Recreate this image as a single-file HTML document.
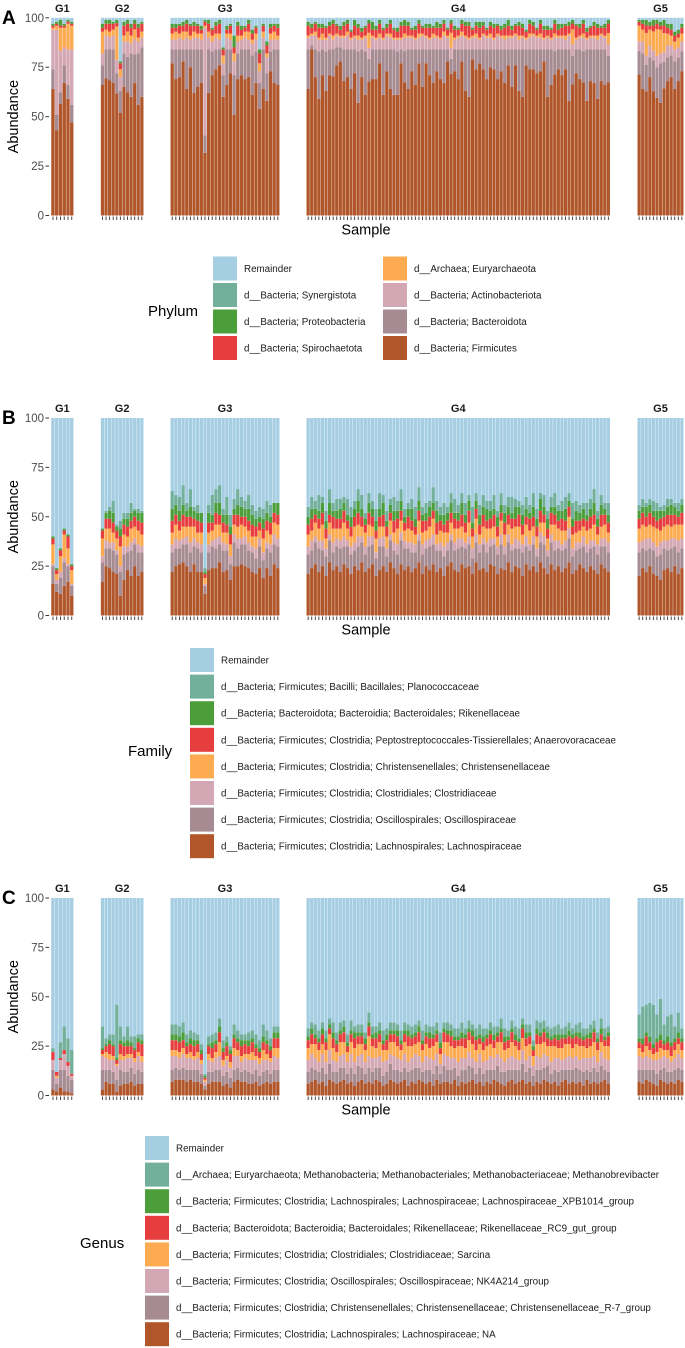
<!DOCTYPE html>
<html><head><meta charset="utf-8"><style>
html,body{margin:0;padding:0;background:#fff;}
svg{display:block;font-family:"Liberation Sans",Arial,sans-serif;}
</style></head><body>
<svg id="chart" width="685" height="1348" viewBox="0 0 685 1348" xmlns="http://www.w3.org/2000/svg"></svg>
<script>
const groups = ["G1","G2","G3","G4","G5"];
const groupSizes = [6,12,30,85,13];
const yTicks = [0,25,50,75,100];

// Panel A (Phylum) — per-sample abundances
const A_firm = [64,43,57,67,59,47, 66,70,69,67,73,52,65,63,60,69,56,60,
77,69,70,78,64,75,62,65,67,32,62,71,74,76,60,66,72,51,69,71,69,70,61,67,54,64,58,73,67,66,
64,84,70,59,71,63,71,71,76,78,68,70,64,72,57,70,61,72,69,69,77,61,73,64,61,61,77,68,64,73,66,77,65,77,71,67,73,69,67,78,76,73,69,78,63,60,79,74,77,74,69,75,74,69,73,67,76,65,76,63,60,76,74,74,72,73,78,60,66,72,74,71,74,58,69,72,69,68,58,68,67,59,68,66,70,
72,64,66,70,64,62,57,67,68,70,64,68,73];
const A_bact = [10,8,6,9,7,9, 10,15,16,17,12,11,17,18,22,15,26,25,
7,15,14,6,20,9,22,19,17,9,22,12,10,8,11,18,12,20,13,13,15,14,20,16,13,20,14,10,17,18,
20,2,14,24,13,20,13,14,9,7,16,14,20,12,26,14,22,12,15,15,7,23,11,20,23,22,7,16,20,11,18,7,19,7,13,17,11,15,17,6,8,11,15,6,21,24,5,10,7,10,15,9,10,15,11,17,8,19,8,21,24,8,10,10,12,11,6,24,18,12,10,13,10,26,15,12,15,16,26,16,17,25,16,18,14,
12,18,14,10,16,16,20,14,12,11,14,12,10];
const A_actino = [20,43,21,9,18,28, 6,7,6,7,8,7,6,8,5,8,6,5,
5,5,6,5,6,5,6,6,5,55,6,5,6,5,6,6,5,7,6,5,6,5,6,6,6,6,8,6,5,5,
6,5,7,6,5,6,7,5,6,5,6,7,5,6,6,5,7,6,6,5,6,5,7,6,5,6,5,7,6,6,5,6,7,6,5,6,6,5,7,6,6,5,6,7,6,5,6,6,5,7,6,6,5,7,6,5,6,6,7,5,6,5,6,7,6,6,5,6,5,7,6,6,5,7,6,5,6,7,5,6,6,5,7,6,6,
5,6,5,6,5,6,5,5,6,5,6,5,5];
const A_eury = [1,2,12,10,13,12, 11,3,3,3,20,4,3,5,4,5,2,3,
3,4,2,4,3,2,3,2,3,1,3,3,2,3,4,2,3,4,3,2,3,4,2,3,4,3,2,3,4,2,
1,1,2,1,3,1,1,2,1,1,1,2,1,1,2,1,1,8,1,1,2,1,1,2,1,1,1,2,1,1,1,2,1,1,1,2,1,1,2,1,8,1,1,2,1,1,1,2,1,1,1,2,1,1,1,2,1,1,1,2,1,1,2,1,1,2,1,1,1,2,1,1,2,1,8,1,1,2,1,1,1,2,1,1,6,
8,6,12,8,10,14,12,10,6,5,4,5,4];
const A_spiro = [1,1,1,1,1,1, 2,3,4,3,2,3,5,4,4,3,5,4,
3,2,4,3,4,5,3,4,2,2,4,3,4,5,3,2,4,3,5,3,2,4,3,3,5,3,4,3,3,4,
5,3,4,5,3,5,4,6,4,3,5,4,3,5,4,3,4,5,3,4,5,4,3,5,4,3,6,4,5,3,4,5,3,4,5,3,4,5,4,3,5,4,3,4,5,6,3,4,5,4,3,4,5,4,3,4,5,3,4,5,4,3,5,4,3,5,4,3,4,5,3,4,5,4,3,6,4,5,3,4,5,4,3,4,5,
2,3,4,2,3,3,2,4,3,3,3,2,3];
const A_proteo = [1,1,3,1,1,1, 2,2,2,1,2,1,2,2,2,2,2,1,
2,2,1,2,2,1,2,1,2,1,2,1,2,2,1,2,1,6,2,2,1,2,2,1,2,1,2,2,1,2,
2,2,1,2,2,1,2,2,1,2,2,2,1,3,2,2,1,2,4,2,2,1,2,2,1,2,2,3,2,1,2,2,1,2,2,1,3,2,2,1,2,2,1,2,2,2,1,2,3,2,1,2,2,1,2,2,3,2,1,2,2,1,2,2,1,2,2,2,1,2,3,2,1,2,2,1,2,2,2,1,2,2,1,2,2,
1,2,3,2,3,2,2,3,2,3,2,2,2];

// Panel B (Family)
const B_lach = [16,12,11,15,17,10, 17,25,24,22,21,10,18,23,20,25,20,22,
22,25,26,27,25,22,26,22,22,11,23,24,24,27,22,23,18,25,25,26,25,24,22,21,24,19,24,20,26,24,
21,24,26,22,25,20,27,23,25,22,26,24,21,25,23,27,22,24,26,20,23,25,22,27,24,21,26,23,25,22,24,27,21,25,23,26,22,24,20,25,27,23,22,26,24,25,21,27,23,24,22,26,25,21,24,23,27,22,25,24,20,26,23,25,22,27,24,21,26,23,25,22,24,27,21,23,26,24,22,25,23,21,26,24,22,
20,24,22,25,21,20,18,23,24,22,25,21,24];
const B_osc = [9,4,8,12,8,5, 10,9,10,11,10,12,13,9,13,11,12,10,
10,9,8,9,11,10,9,12,10,4,9,11,10,9,11,10,8,12,9,10,11,9,10,8,11,9,10,12,10,11,
10,9,11,12,8,10,11,9,10,12,9,11,10,8,12,10,9,11,10,9,12,10,8,11,9,10,12,11,9,10,8,11,10,9,12,10,11,9,10,8,11,10,12,9,10,11,8,10,9,12,10,9,11,10,12,8,10,11,9,10,12,9,10,11,8,10,12,9,11,10,9,11,10,12,9,10,8,11,10,9,12,10,9,11,10,
12,10,11,9,12,10,13,11,9,12,10,11,10];
const B_clos = [1,2,3,2,1,1, 3,4,3,4,2,3,4,3,4,3,4,3,
4,5,4,3,4,5,4,3,4,1,4,3,5,4,4,3,4,4,5,3,4,4,3,5,4,4,3,4,5,4,
4,5,3,4,5,4,3,5,4,4,5,3,4,4,5,3,4,5,4,3,4,5,4,3,4,5,4,4,3,5,4,3,5,4,4,5,3,4,5,4,3,4,5,4,3,4,5,4,4,3,5,4,3,4,5,4,4,3,5,4,4,5,3,4,4,5,4,3,4,5,4,3,4,5,4,4,3,5,4,4,3,5,4,4,5,
5,4,6,5,4,5,6,4,5,5,4,6,5];
const B_chr = [10,3,8,12,8,7, 9,6,7,5,6,10,6,5,7,6,7,6,
6,7,5,6,5,8,6,5,6,3,6,5,7,6,5,6,6,5,6,7,5,6,5,6,4,7,6,5,6,7,
6,5,7,6,8,5,6,7,5,6,7,6,5,8,6,5,7,6,5,7,6,5,6,7,5,8,6,5,7,6,5,7,6,5,6,8,5,6,7,5,6,7,5,6,5,7,6,8,5,6,7,5,6,5,7,6,5,8,6,7,5,6,7,5,6,5,7,6,5,8,6,7,5,6,7,5,6,5,7,6,8,5,6,7,5,
7,8,6,7,8,9,6,7,8,6,7,8,7];
const B_anae = [3,2,3,2,6,2, 4,5,5,5,4,5,5,5,4,5,5,6,
6,5,5,6,5,5,4,6,5,2,5,4,6,5,5,4,5,5,6,4,5,5,6,5,4,5,5,6,5,5,
5,6,4,5,6,5,4,6,5,5,6,4,5,5,6,5,4,6,5,4,5,6,5,4,6,5,5,4,6,5,4,5,6,5,5,4,6,5,4,6,5,5,4,6,5,6,4,5,5,6,4,5,6,5,4,6,5,5,4,6,5,4,6,5,5,6,4,5,6,5,4,6,5,5,4,6,5,4,5,6,5,4,6,5,5,
5,6,5,6,5,4,6,5,5,6,5,4,6];
const B_rik = [1,1,1,1,1,1, 1,3,4,5,2,4,3,4,4,3,4,5,
6,5,5,5,3,5,4,4,5,1,5,4,5,6,4,5,4,3,5,5,4,6,5,4,3,5,4,3,5,6,
4,5,3,4,5,4,6,3,4,5,4,3,5,4,6,4,3,5,4,5,4,6,3,4,5,4,5,3,4,6,4,5,3,4,5,4,6,3,5,4,5,3,4,6,4,5,3,4,5,4,6,4,3,5,4,5,4,3,6,4,5,4,3,5,4,6,4,5,3,4,5,4,6,3,4,5,4,5,3,4,6,4,5,3,4,
4,3,5,4,3,5,4,3,4,5,4,3,4];
const B_plan = [0,0,0,0,0,0, 0,1,2,6,1,4,3,3,5,1,2,1,
9,5,7,10,4,9,2,4,0,2,4,10,7,9,3,9,6,5,8,5,4,7,5,4,5,5,6,6,0,0,
5,6,4,8,3,5,7,4,6,5,3,8,5,4,6,7,3,5,4,6,8,4,5,3,7,5,6,4,3,5,6,7,4,5,3,8,5,4,6,3,5,7,4,5,6,3,8,4,5,6,4,5,7,3,6,4,5,8,4,3,5,6,4,7,5,3,6,4,5,7,3,5,6,4,8,5,4,3,6,5,7,4,5,3,6,
3,4,2,3,5,4,2,3,4,3,2,4,3];

// Panel C (Genus)
const C_na = [3,2,4,2,2,1, 3,7,6,6,2,5,6,6,7,5,6,6,
7,8,8,8,7,8,7,7,6,3,6,7,7,7,5,6,4,7,8,7,7,6,6,7,5,6,7,6,7,7,
6,7,8,6,7,5,8,7,6,7,8,6,7,5,7,8,6,7,6,8,7,5,6,8,7,6,7,8,5,7,6,8,7,6,7,5,8,6,7,7,6,8,5,7,6,7,8,6,7,5,7,6,8,7,6,5,7,8,6,7,8,6,7,5,7,6,8,7,6,7,5,7,8,6,7,6,7,5,8,6,7,6,7,8,6,
7,6,8,7,6,5,8,7,6,7,6,8,7];
const C_chr = [10,4,9,11,8,7, 10,6,7,6,6,8,6,6,7,6,7,6,
6,6,5,6,6,5,6,6,5,2,6,5,6,6,5,6,5,6,6,5,6,6,5,6,5,6,6,5,6,6,
6,7,5,6,7,6,8,5,6,7,6,5,7,6,8,6,5,7,6,6,7,5,6,8,6,7,5,6,7,6,8,6,5,7,6,6,7,5,8,6,7,6,5,6,7,8,6,5,7,6,6,7,5,8,6,7,6,5,7,6,8,6,7,5,6,7,6,8,5,6,7,6,5,7,6,8,6,7,5,6,7,6,8,5,6,
6,7,5,6,7,6,5,7,6,5,7,6,6];
const C_nk = [5,3,5,8,5,2, 7,6,5,6,7,5,6,7,5,6,7,5,
7,6,6,7,6,6,5,6,5,2,6,5,6,7,5,6,5,7,6,5,6,6,7,5,6,6,5,6,7,6,
6,7,6,5,7,6,7,6,5,6,7,6,7,6,5,7,6,6,7,5,6,7,6,5,7,6,6,7,5,6,7,6,5,7,6,7,6,5,6,7,6,5,7,6,6,7,5,6,7,6,5,7,6,6,7,5,6,7,6,5,7,6,6,5,7,6,7,5,6,6,7,5,6,7,6,6,5,7,6,7,6,5,7,6,6,
7,6,7,6,5,7,6,6,7,5,6,7,6];
const C_sar = [0,1,0,0,0,0, 1,3,3,2,1,3,2,2,2,2,2,3,
3,3,3,3,2,3,2,3,2,1,3,2,3,7,3,2,3,4,3,3,2,3,4,2,3,5,3,2,4,5,
6,5,7,6,5,6,8,6,5,7,6,5,6,7,6,5,6,10,6,5,7,6,5,6,7,6,5,6,8,6,5,7,6,6,5,7,6,5,6,7,6,5,8,6,5,6,7,6,5,6,7,6,5,6,8,6,5,7,6,5,6,7,6,5,6,7,6,5,8,6,5,6,7,6,5,6,7,6,5,6,7,6,5,6,7,
4,3,5,4,3,4,5,3,4,3,4,5,4];
const C_rc9 = [4,2,1,2,2,1, 2,3,5,5,2,5,5,4,4,4,5,6,
5,5,5,4,4,4,5,4,3,1,4,5,4,5,4,5,4,5,4,5,5,4,5,4,3,4,5,4,5,5,
4,5,3,4,5,4,3,5,4,4,5,3,4,5,4,4,3,5,4,5,4,3,5,4,4,5,3,4,5,4,4,5,3,4,5,4,4,3,5,4,5,4,3,4,5,4,4,5,3,4,4,5,4,3,5,4,4,5,3,4,5,4,4,3,5,4,5,4,3,4,4,5,3,4,5,4,4,3,5,4,5,4,4,3,5,
3,4,5,4,3,5,4,3,4,5,4,3,4];
const C_xpb = [0,0,0,0,0,0, 1,1,2,1,1,2,2,3,2,1,2,2,
3,3,3,4,2,3,3,2,2,1,1,3,2,3,2,2,2,2,2,3,2,3,2,2,2,3,2,2,3,3,
2,3,2,2,3,2,2,3,2,2,3,2,2,3,2,2,3,2,2,3,2,2,3,2,2,3,2,2,3,2,2,3,2,2,3,2,2,3,2,2,3,2,2,3,2,2,3,2,2,3,2,2,3,2,2,3,2,2,3,2,2,3,2,2,3,2,2,3,2,2,3,2,2,3,2,2,3,2,2,3,2,2,3,2,2,
2,3,2,3,2,2,3,2,3,2,2,3,2];
const C_meth = [2,0,8,12,12,12, 11,3,3,5,27,7,3,7,3,6,2,3,
5,5,5,5,4,4,4,3,3,1,4,4,4,4,4,3,2,5,4,3,3,4,4,5,4,6,5,4,3,3,
4,3,5,4,3,4,3,5,4,4,3,4,5,3,4,4,3,5,4,3,4,5,3,4,4,3,5,4,3,4,4,3,5,4,3,4,4,5,3,4,3,4,4,5,3,4,3,4,5,4,3,4,4,3,5,4,3,4,4,5,3,4,4,3,4,5,4,3,4,4,5,3,4,4,3,4,5,4,3,4,4,3,5,4,3,
12,16,14,17,20,12,18,8,10,14,6,10,5];

const COL = {rem:"#a6cee3", teal:"#72b09b", green:"#4c9e3b", red:"#e63e3f", orange:"#fdab51", pink:"#d3a7b4", mauve:"#a68b92", brown:"#b0562a"};

const facetX = [[50.7,74],[100.3,144],[170,280],[306,610.5],[637,684]];
const svg = document.getElementById('chart');
const NS = "http://www.w3.org/2000/svg";
function mk(tag, attrs, parent){ const e=document.createElementNS(NS,tag); for(const k in attrs) e.setAttribute(k,attrs[k]); (parent||svg).appendChild(e); return e; }

function drawPanel(p){
  const g = mk('g',{});
  
  
  const yS = v => p.y0 - (p.y0-p.y100)*v/100;
  const L = mk('text',{x:2,y:p.y100+6,'font-size':19,'font-weight':'bold',fill:'#000'},g); L.textContent=p.letter;
  
  
  yTicks.forEach(t=>{
    const y=yS(t);
    const tk = mk('line',{x1:45.5,x2:49,y1:y,y2:y,stroke:'#333','stroke-width':1},g);
    
    
    const tl = mk('text',{x:44,y:y+4,'font-size':11.5,fill:'#4d4d4d','text-anchor':'end'},g); tl.textContent=t;
    
    
  });
  const yt = mk('text',{x:0,y:0,'font-size':14.5,fill:'#000','text-anchor':'middle',transform:`translate(18,${(p.y0+p.y100)/2}) rotate(-90)`},g); yt.textContent='Abundance';
  
  
  const xt = mk('text',{x:366,y:p.y0+19,'font-size':14.5,fill:'#000','text-anchor':'middle'},g); xt.textContent='Sample';
  
  
  let idx=0;
  groups.forEach((gn,gi)=>{
    const [x0,x1]=facetX[gi]; const n=groupSizes[gi]; const u=(x1-x0)/(n+0.2);
    const st = mk('text',{x:(x0+x1)/2,y:p.y100-6,'font-size':11,'font-weight':'bold',fill:'#1a1a1a','text-anchor':'middle'},g); st.textContent=gn;
    
    
    for(let i=0;i<n;i++,idx++){
      const cx = x0 + u*(0.6+i);
      let total=0; p.series.forEach(s=>{ total+=s.data[idx]; });
      const k = total>99 ? 99/total : 1;
      let cum=0;
      p.series.forEach(s=>{
        const v = s.data[idx]*k;
        if(v>0){
          const r = mk('rect',{x:cx-u*0.45,width:u*0.9,y:yS(cum+v),height:yS(cum)-yS(cum+v),fill:s.color},g);
          
          
        }
        cum+=v;
      });
      const rr = mk('rect',{x:cx-u*0.45,width:u*0.9,y:yS(100),height:yS(cum)-yS(100),fill:COL.rem},g);
      
      
      const xk = mk('line',{x1:cx,x2:cx,y1:p.y0+1,y2:p.y0+4.5,stroke:'#333','stroke-width':0.9},g);
      
      
    }
  });
  const lg = mk('g',{},g);
  
  
  const lt = mk('text',{x:p.leg.titleX,y:p.leg.titleY,'font-size':15,fill:'#000'},lg); lt.textContent=p.leg.title;
  
  
  p.leg.items.forEach((it,i)=>{
    const col = p.leg.cols ? Math.floor(i/4) : 0; const row = p.leg.cols ? i%4 : i;
    const sx = p.leg.sx + col*p.leg.colW; const cy = p.leg.y + row*p.leg.dy;
    const e = mk('g',{},lg);
    
    
    mk('rect',{x:sx,y:cy-12,width:24,height:24,fill:it[1]},e);
    const t = mk('text',{x:sx+31,y:cy+3.5,'font-size':9.8,fill:'#1a1a1a'},e); t.textContent=it[0];
  });
}

drawPanel({letter:'A',y0:215.5,y100:17.8,
 series:[{key:'firmicutes',data:A_firm,color:COL.brown},{key:'bacteroidota',data:A_bact,color:COL.mauve},{key:'actinobacteriota',data:A_actino,color:COL.pink},{key:'euryarchaeota',data:A_eury,color:COL.orange},{key:'spirochaetota',data:A_spiro,color:COL.red},{key:'proteobacteria',data:A_proteo,color:COL.green}],
 leg:{title:'Phylum',titleX:148,titleY:316,sx:213,colW:170,cols:2,y:268.5,dy:26.5,items:[
  ['Remainder',COL.rem],['d__Bacteria; Synergistota',COL.teal],['d__Bacteria; Proteobacteria',COL.green],['d__Bacteria; Spirochaetota',COL.red],
  ['d__Archaea; Euryarchaeota',COL.orange],['d__Bacteria; Actinobacteriota',COL.pink],['d__Bacteria; Bacteroidota',COL.mauve],['d__Bacteria; Firmicutes',COL.brown]]}});

drawPanel({letter:'B',y0:615.5,y100:418,
 series:[{key:'lachnospiraceae',data:B_lach,color:COL.brown},{key:'oscillospiraceae',data:B_osc,color:COL.mauve},{key:'clostridiaceae',data:B_clos,color:COL.pink},{key:'christensenellaceae',data:B_chr,color:COL.orange},{key:'anaerovoracaceae',data:B_anae,color:COL.red},{key:'rikenellaceae',data:B_rik,color:COL.green},{key:'planococcaceae',data:B_plan,color:COL.teal}],
 leg:{title:'Family',titleX:128,titleY:756,sx:190,colW:0,cols:0,y:660,dy:26.6,items:[
  ['Remainder',COL.rem],['d__Bacteria; Firmicutes; Bacilli; Bacillales; Planococcaceae',COL.teal],['d__Bacteria; Bacteroidota; Bacteroidia; Bacteroidales; Rikenellaceae',COL.green],
  ['d__Bacteria; Firmicutes; Clostridia; Peptostreptococcales-Tissierellales; Anaerovoracaceae',COL.red],['d__Bacteria; Firmicutes; Clostridia; Christensenellales; Christensenellaceae',COL.orange],
  ['d__Bacteria; Firmicutes; Clostridia; Clostridiales; Clostridiaceae',COL.pink],['d__Bacteria; Firmicutes; Clostridia; Oscillospirales; Oscillospiraceae',COL.mauve],['d__Bacteria; Firmicutes; Clostridia; Lachnospirales; Lachnospiraceae',COL.brown]]}});

drawPanel({letter:'C',y0:1095.5,y100:898,
 series:[{key:'na',data:C_na,color:COL.brown},{key:'christensenellaceae-r7',data:C_chr,color:COL.mauve},{key:'nk4a214',data:C_nk,color:COL.pink},{key:'sarcina',data:C_sar,color:COL.orange},{key:'rc9-gut',data:C_rc9,color:COL.red},{key:'xpb1014',data:C_xpb,color:COL.green},{key:'methanobrevibacter',data:C_meth,color:COL.teal}],
 leg:{title:'Genus',titleX:80,titleY:1248,sx:145,colW:0,cols:0,y:1148,dy:26.6,items:[
  ['Remainder',COL.rem],['d__Archaea; Euryarchaeota; Methanobacteria; Methanobacteriales; Methanobacteriaceae; Methanobrevibacter',COL.teal],
  ['d__Bacteria; Firmicutes; Clostridia; Lachnospirales; Lachnospiraceae; Lachnospiraceae_XPB1014_group',COL.green],['d__Bacteria; Bacteroidota; Bacteroidia; Bacteroidales; Rikenellaceae; Rikenellaceae_RC9_gut_group',COL.red],
  ['d__Bacteria; Firmicutes; Clostridia; Clostridiales; Clostridiaceae; Sarcina',COL.orange],['d__Bacteria; Firmicutes; Clostridia; Oscillospirales; Oscillospiraceae; NK4A214_group',COL.pink],
  ['d__Bacteria; Firmicutes; Clostridia; Christensenellales; Christensenellaceae; Christensenellaceae_R-7_group',COL.mauve],['d__Bacteria; Firmicutes; Clostridia; Lachnospirales; Lachnospiraceae; NA',COL.brown]]}});
</script>
</body></html>
